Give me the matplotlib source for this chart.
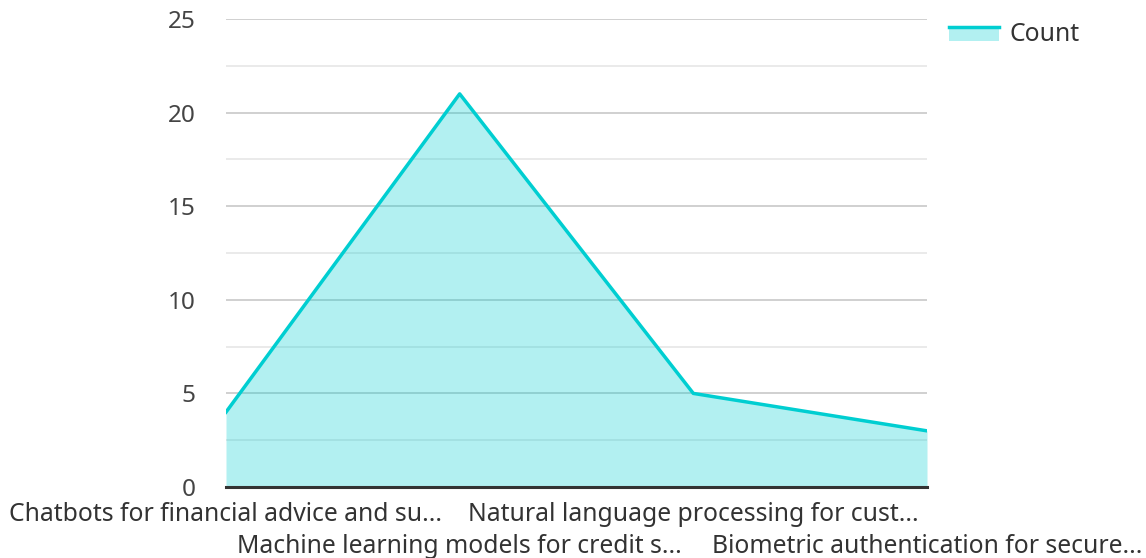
import matplotlib
matplotlib.use("Agg")
import matplotlib.pyplot as plt
from matplotlib.legend_handler import HandlerBase
from matplotlib.patches import Rectangle
from matplotlib.lines import Line2D

plt.rcParams['font.family'] = ['Noto Sans', 'DejaVu Sans']

# datos del grafico
categorias = [
    "Chatbots for financial advice and su...",
    "Machine learning models for credit s...",
    "Natural language processing for cust...",
    "Biometric authentication for secure...",
]
valores = [4, 21, 5, 3]
serie = "Count"

color_linea = '#00CED1'
alfa_area = 0.3


class HandlerArea(HandlerBase):
    # linea arriba y area debajo, como en la grafica
    def create_artists(self, legend, orig_handle, xdescent, ydescent,
                       width, height, fontsize, trans):
        rect = Rectangle((-xdescent, -ydescent), width, height * 0.85,
                         facecolor=color_linea, alpha=alfa_area,
                         edgecolor='none', transform=trans)
        linea = Line2D([-xdescent, -xdescent + width],
                       [-ydescent + height * 0.85] * 2,
                       color=color_linea, lw=2.5, transform=trans)
        return [rect, linea]


fig = plt.figure(figsize=(11.46, 5.58), dpi=100)
ax = fig.add_axes([0.1972, 0.1272, 0.6117, 0.8388])

x = list(range(len(valores)))
ax.fill_between(x, valores, 0, color=color_linea, alpha=alfa_area, zorder=2, lw=0)
ax.plot(x, valores, color=color_linea, lw=2.5, zorder=3)

ax.set_xlim(0, len(valores) - 1)
ax.set_ylim(0, 25)
ax.set_yticks([0, 5, 10, 15, 20, 25])
ax.set_yticks([2.5, 7.5, 12.5, 17.5, 22.5], minor=True)
ax.set_axisbelow(True)
ax.grid(axis='y', which='major', color='#c8c8c8', lw=1.2, zorder=1)
ax.grid(axis='y', which='minor', color='#e6e6e6', lw=1.2, zorder=1)

# etiquetas alternadas en dos filas
ax.set_xticks(x)
ax.set_xticklabels(categorias, fontsize=17.8, color='#333333')
ax.tick_params(axis='x', length=0, pad=11)
for i, tick in enumerate(ax.xaxis.get_major_ticks()):
    if i % 2 == 1:
        tick.set_pad(34)
ax.tick_params(axis='y', which='both', length=0, pad=22, labelsize=17.5, labelcolor='#444444')

for lado in ['top', 'right', 'left']:
    ax.spines[lado].set_visible(False)
ax.spines['bottom'].set_color('#333333')
ax.spines['bottom'].set_linewidth(2.2)
ax.spines['bottom'].set_zorder(4)

fig.legend([Rectangle((0, 0), 1, 1)], [serie], handler_map={Rectangle: HandlerArea()},
           loc='upper left', bbox_to_anchor=(0.809, 1.0), frameon=False,
           fontsize=17.8, handlelength=2.0, handletextpad=0.45, labelcolor='#333333')

fig.savefig("out.png", dpi=100)
